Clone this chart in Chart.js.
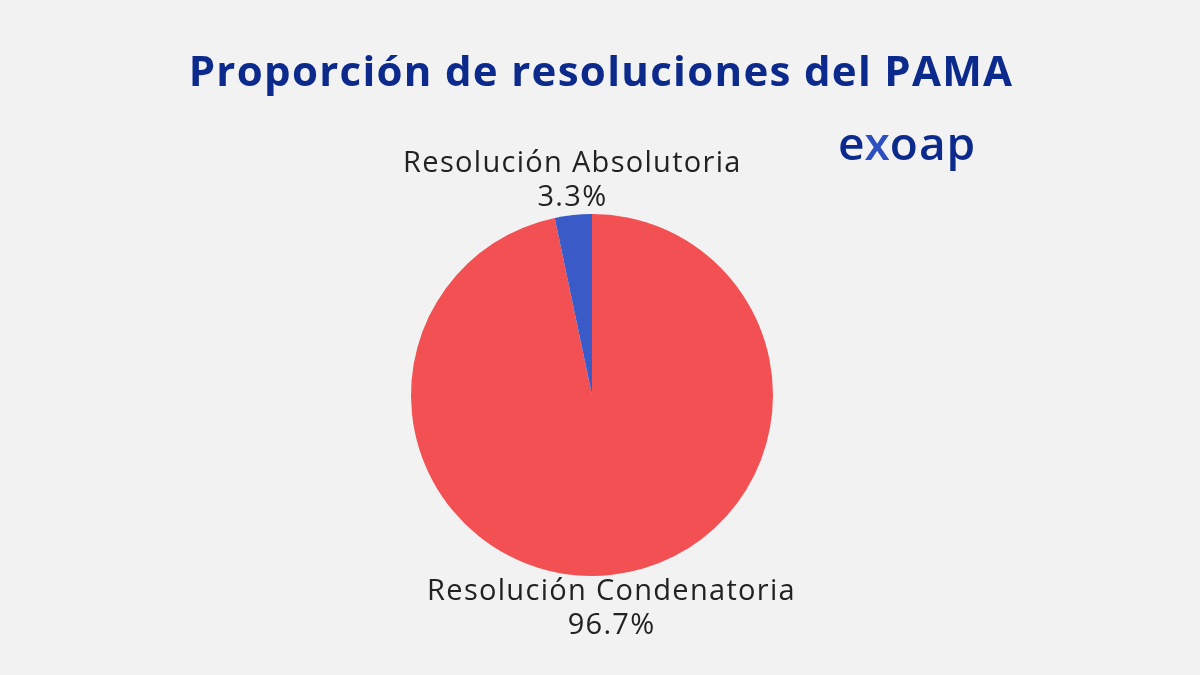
<!DOCTYPE html>
<html>
<head>
<meta charset="utf-8">
<script src="https://cdn.jsdelivr.net/npm/chart.js@4.4.1/dist/chart.umd.min.js"></script>
<style>
  html, body { margin: 0; padding: 0; background: #f2f2f2; }
  #wrap { position: relative; width: 1200px; height: 675px; }
  canvas { display: block; }
</style>
</head>
<body>
<div id="wrap"><canvas id="c" width="1200" height="675"></canvas></div>
<script>
const TITLE = "Proporción de resoluciones del PAMA";
const categories = ["Resolución Condenatoria", "Resolución Absolutoria"];
const values = [96.7, 3.3];
const valueLabels = ["96.7%", "3.3%"];
const colors = ["#f25052", "#3a5bc7"];

const labelsPlugin = {
  id: "outsideLabels",
  afterDraw(chart) {
    const ctx = chart.ctx;
    // Title
    ctx.save();
    ctx.fillStyle = "#0b2a8c";
    ctx.font = "bold 42px 'Open Sans', sans-serif";
    ctx.letterSpacing = "1.3px";
    ctx.textAlign = "center";
    ctx.textBaseline = "alphabetic";
    ctx.fillText(TITLE, 601, 86);
    // Logo
    ctx.font = "600 46px 'Open Sans', sans-serif";
    ctx.letterSpacing = "1px";
    ctx.textAlign = "left";
    const lx = 838, ly = 160;
    ctx.fillStyle = "#0b2a8c";
    ctx.fillText("e", lx, ly);
    let w = ctx.measureText("e").width;
    ctx.fillStyle = "#2d4fc0";
    ctx.fillText("x", lx + w - 1, ly);
    let w2 = ctx.measureText("x").width;
    ctx.fillStyle = "#0b2a8c";
    ctx.fillText("oap", lx + w + w2 - 2, ly);
    ctx.restore();

    // Slice labels
    const meta = chart.getDatasetMeta(0);
    ctx.save();
    ctx.font = "29px 'Open Sans', sans-serif";
    ctx.letterSpacing = "1.3px";
    ctx.fillStyle = "#222222";
    ctx.textAlign = "center";
    const lh = 34;
    meta.data.forEach((arc, i) => {
      const p = arc.getProps(["x", "y", "startAngle", "endAngle", "outerRadius"], true);
      const mid = (p.startAngle + p.endAngle) / 2;
      const r = p.outerRadius + 8;
      const px = p.x + Math.cos(mid) * r;
      const py = p.y + Math.sin(mid) * r;
      const lines = [categories[i], valueLabels[i]];
      if (Math.sin(mid) < 0) {
        ctx.textBaseline = "bottom";
        ctx.fillText(lines[1], px, py + 5);
        ctx.fillText(lines[0], px, py + 5 - lh);
      } else {
        ctx.textBaseline = "top";
        ctx.fillText(lines[0], px, py - 6);
        ctx.fillText(lines[1], px, py - 6 + lh);
      }
    });
    ctx.restore();
  }
};

new Chart(document.getElementById("c"), {
  type: "pie",
  data: {
    labels: categories,
    datasets: [{
      data: values,
      backgroundColor: colors,
      borderWidth: 0
    }]
  },
  options: {
    responsive: false,
    animation: false,
    layout: { padding: { top: 214, bottom: 99, left: 411, right: 427 } },
    plugins: {
      legend: { display: false },
      tooltip: { enabled: false },
      title: { display: false }
    }
  },
  plugins: [labelsPlugin]
});
</script>
</body>
</html>
